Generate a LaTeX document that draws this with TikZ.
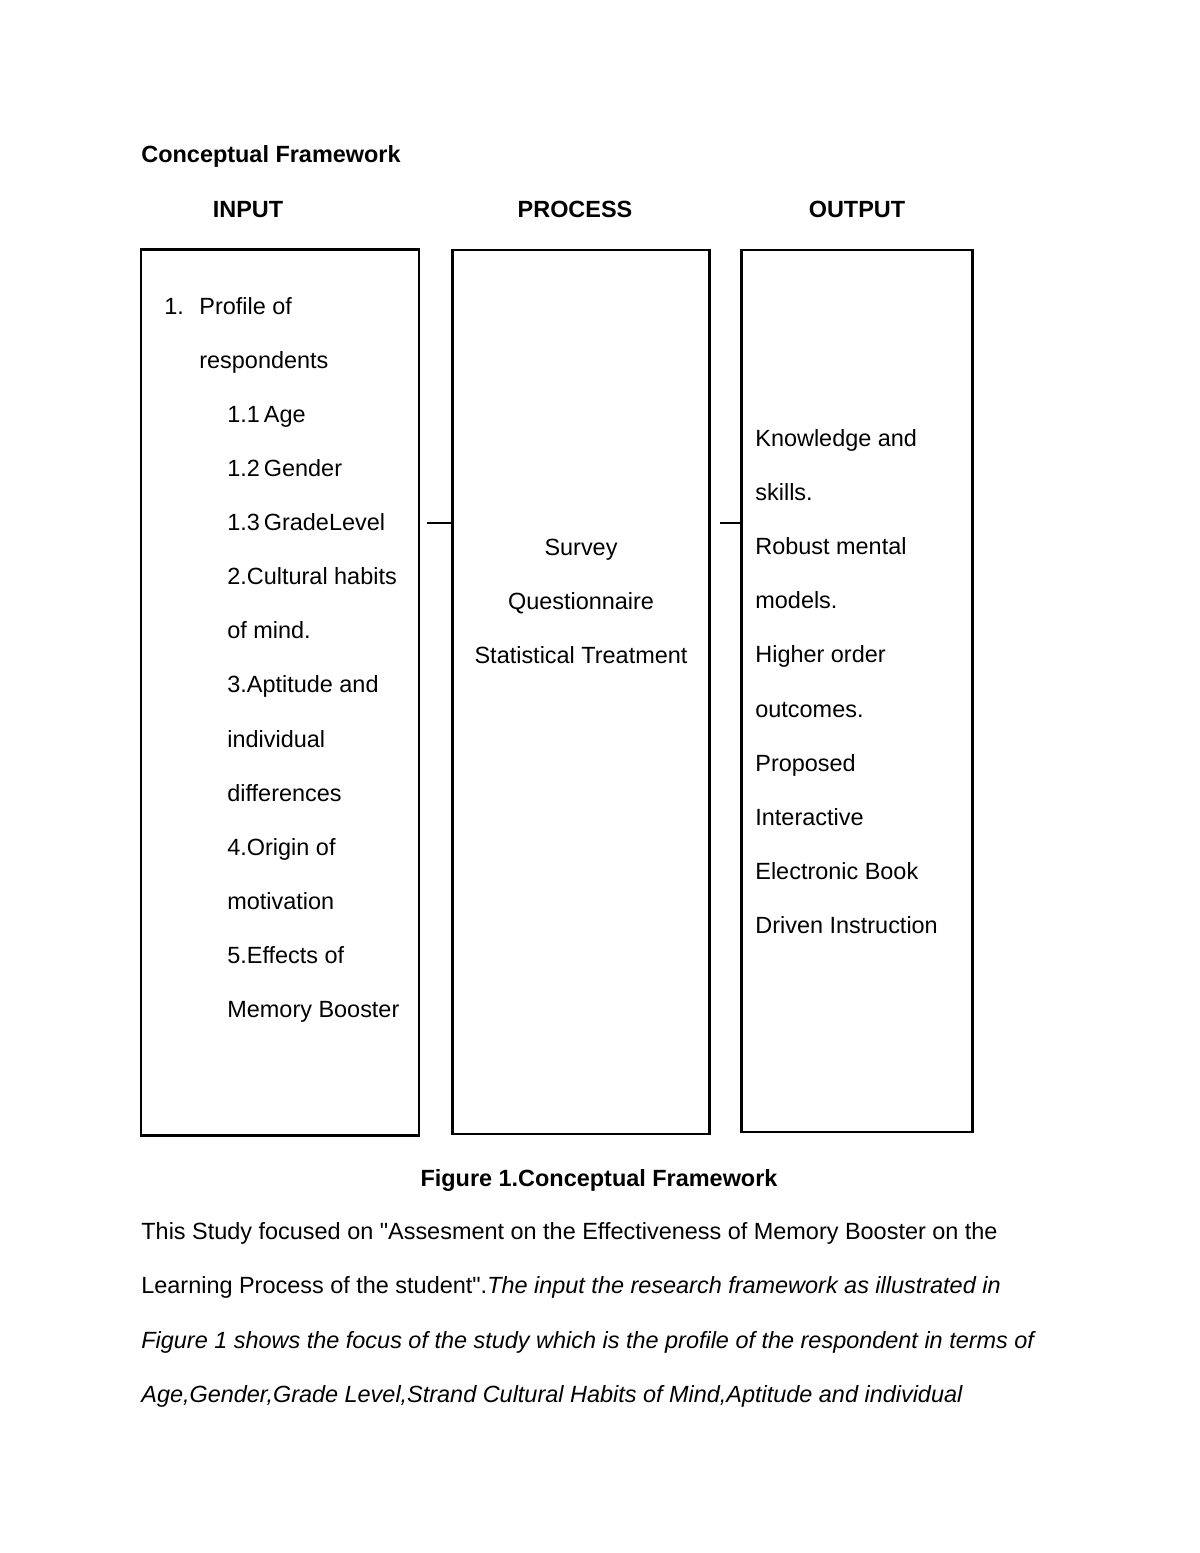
\documentclass[12pt,tikz,border=0pt]{standalone}
\usepackage{fontspec}
\setmainfont{Liberation Sans}
\usetikzlibrary{positioning}
\newcommand{\px}{0.017992cm}

\begin{document}
\begin{tikzpicture}[x=\px,y=-\px,
box/.style={draw,line width=1.5pt,inner sep=0pt},
txt/.style={anchor=base west,inner sep=0pt},
mid/.style={anchor=base,inner sep=0pt},
head/.style={anchor=base,inner sep=0pt,font=\bfseries},
link/.style={line width=1.5pt}]
\useasboundingbox (0,0) rectangle (1200,1553);
\node[txt,font=\bfseries] (title) at (141,163) {Conceptual Framework};
\node[head] (inhead) at (248,218) {INPUT};
\node[head] (prochead) at (575,218) {PROCESS};
\node[head] (outhead) at (857,218) {OUTPUT};
% the three boxes
\node[box,minimum width=278*\px,minimum height=886*\px] (input) at (280,692.5) {};
\node[box,minimum width=257*\px,minimum height=884*\px] (process) at (581,692) {};
\node[box,minimum width=231*\px,minimum height=882*\px] (output) at (857,691) {};
% input list
\node[txt] (num1) at (164,315) {1.};
\node[txt] (prof) at (199,315) {Profile of};
\node[txt] (resp) at (199,368) {respondents};
\foreach \t [count=\i from 0] in {1.1\,Age,1.2\,Gender,1.3\,GradeLevel,2.Cultural habits,of mind.,3.Aptitude and,individual,differences,4.Origin of,motivation,5.Effects of,Memory Booster}
  \node[txt] (in\i) at (227,{422+54.18*\i}) {\t};
% process list
\foreach \t [count=\i from 0] in {Survey,Questionnaire,Statistical Treatment}
  \node[mid] (pr\i) at (581,{555+54.2*\i}) {\t};
% output list
\foreach \t [count=\i from 0] in {Knowledge and,skills.,Robust mental,models.,Higher order,outcomes.,Proposed,Interactive,Electronic Book,Driven Instruction}
  \node[txt] (out\i) at (755,{446+54.2*\i}) {\t};
% links between boxes
\coordinate (gap1) at (427,523);
\coordinate (gap2) at (720,523);
\draw[link] (gap1) -- (gap1 -| process.west);
\draw[link] (gap2) -- (gap2 -| output.west);
% caption and text
\node[head] (caption) at (599,1186) {Figure 1.Conceptual Framework};
\node[txt] (para1) at (141,1239) {This Study focused on \textquotedbl Assesment on the Effectiveness of Memory Booster on the};
\node[txt] (para2) at (141,1293) {Learning Process of the student\textquotedbl.\textit{The input the research framework as illustrated in}};
\node[txt,font=\itshape] (para3) at (141,1348) {Figure 1 shows the focus of the study which is the profile of the respondent in terms of};
\node[txt,font=\itshape] (para4) at (141,1402) {Age,Gender,Grade Level,Strand Cultural Habits of Mind,Aptitude and individual};
\end{tikzpicture}
\end{document}
